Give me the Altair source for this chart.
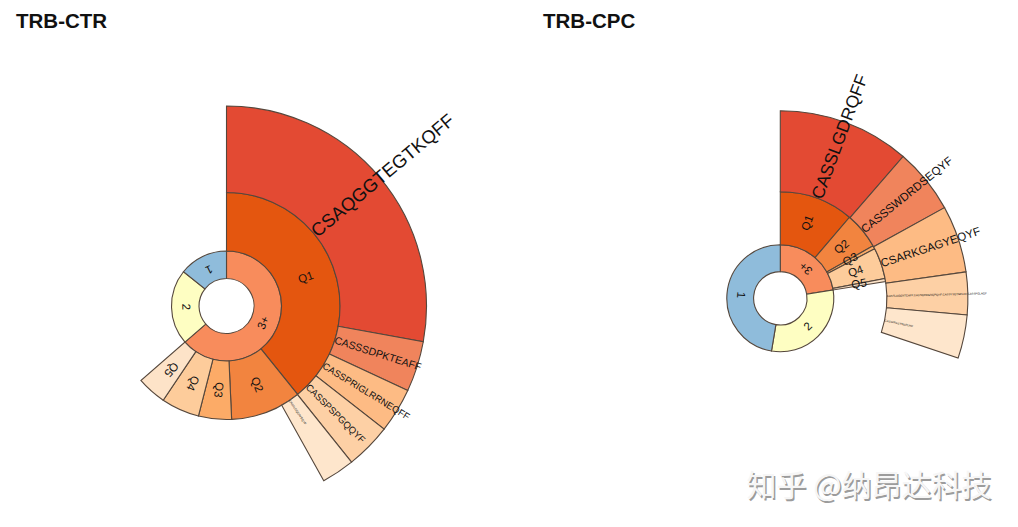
import math
import altair as alt
import pandas as pd

# ---------------- values (angular sizes, degrees) ----------------
# TRB-CTR (left sunburst)
ctr_clone_labels = ["3+", "2", "1"]
ctr_clone_deg = [229.0, 79.5, 51.5]
ctr_q_labels = ["Q1", "Q2", "Q3", "Q4", "Q5"]
ctr_q_deg = [141.2, 36.2, 16.9, 19.6, 15.1]
ctr_seq_labels = ["CSAQGGTEGTKQFF", "CASSSDPKTEAFF", "CASSPRIGLRRNEQFF",
                  "CASSPSPGQQYF", "CASSLGQGAYEQYF"]
ctr_seq_deg = [100.3, 14.7, 13.0, 13.3, 9.6]

# TRB-CPC (right sunburst)
cpc_clone_labels = ["3+", "2", "1"]
cpc_clone_deg = [81.0, 108.5, 170.5]
cpc_q_labels = ["Q1", "Q2", "Q3", "Q4", "Q5"]
cpc_q_deg = [40.5, 20.0, 1.8, 17.0, 1.7]
cpc_seq_labels = ["CASSLGDRQFF", "CASSSWDRDSEQYF", "CSARKGAGYEQYF",
                  "CASSLAGGNTEAFF;CASSQDRGNQPQHF;CASSYSGTGELFF;CASSPGLAGF",
                  "CASSIRSSYNSPLHF"]
cpc_seq_deg = [40.9, 20.2, 20.8, 13.2, 13.5]

titles = ["TRB-CTR", "TRB-CPC"]
watermark = ["知乎 @纳昂达科技"]

# ---------------- styles ----------------
clone_colors = ["#f88c5c", "#fefec2", "#8fbcdb"]
q_colors = ["#e4560f", "#f2843f", "#fcab67", "#fdcc9b", "#fde3c8"]
seq_colors = ["#e34a33", "#f0845c", "#fdbb84", "#fdd0a5", "#fee6cc"]
ctr_seq_font = [18.5, 10.5, 9.5, 9.5, 3]
cpc_seq_font = [17.5, 11.5, 11.5, 2.8, 3]
STROKE = "#55473c"
LABEL_FONT = "Liberation Sans"


def ring_rows(ring, labels, degs, colors, fonts=None):
    rows = []
    start = 0.0
    for i, (lab, d) in enumerate(zip(labels, degs)):
        end = start + d
        mid = (start + end) / 2
        if ring == 1:
            rot = (mid - 180) % 360
            r_lab = 0.5
        elif ring == 2:
            rot = (mid - 90) % 360
            r_lab = 1.5
        else:
            rot = (mid - 90) % 360
            r_lab = 2.0
        rows.append(dict(ring=ring, label=lab, start=start, end=end, mid=mid,
                         r_in=ring - 1, r_out=ring, r_lab=r_lab, rot=rot,
                         fill=colors[i], fs=(fonts[i] if fonts else 11.5)))
        start = end
    return rows


def build(clone_l, clone_d, q_l, q_d, seq_l, seq_d, seq_f):
    rows = (ring_rows(1, clone_l, clone_d, clone_colors)
            + ring_rows(2, q_l, q_d, q_colors)
            + ring_rows(3, seq_l, seq_d, seq_colors, seq_f))
    return pd.DataFrame(rows)


def panel(df, cx, cy, radii, title, w, h, extra=None):
    theta_scale = alt.Scale(domain=[0, 360], range=[0, 2 * math.pi])
    radius_scale = alt.Scale(type="linear", domain=[0, 1, 2, 3], range=radii,
                             zero=False, nice=False)
    base = alt.Chart(df)
    arcs = base.mark_arc(stroke=STROKE, strokeWidth=1.1).encode(
        x=alt.value(cx), y=alt.value(cy),
        theta=alt.Theta("start:Q", scale=theta_scale, stack=False),
        theta2="end:Q",
        radius=alt.Radius("r_in:Q", scale=radius_scale),
        radius2="r_out:Q",
        color=alt.Color("fill:N", scale=None),
    )
    inner = base.transform_filter("datum.ring < 3").mark_text(
        font=LABEL_FONT, align="center", baseline="middle", color="#111111"
    ).encode(
        x=alt.value(cx), y=alt.value(cy),
        theta=alt.Theta("mid:Q", scale=theta_scale, stack=False),
        radius=alt.Radius("r_lab:Q", scale=radius_scale),
        angle=alt.Angle("rot:Q", scale=None),
        size=alt.Size("fs:Q", scale=None),
        text="label:N",
    )
    seq = base.transform_filter("datum.ring == 3").mark_text(
        font=LABEL_FONT, align="left", baseline="middle", dx=0, color="#111111"
    ).encode(
        x=alt.value(cx), y=alt.value(cy),
        theta=alt.Theta("mid:Q", scale=theta_scale, stack=False),
        radius=alt.Radius("r_lab:Q", scale=radius_scale),
        angle=alt.Angle("rot:Q", scale=None),
        size=alt.Size("fs:Q", scale=None),
        text="label:N",
    )
    ttl = alt.Chart(pd.DataFrame({"t": [title]})).mark_text(
        font="Liberation Sans", fontWeight="bold", fontSize=20.5, align="left",
        baseline="alphabetic", color="#111111"
    ).encode(x=alt.value(8), y=alt.value(19.7), text="t:N")
    layers = [arcs, inner, seq, ttl]
    if extra is not None:
        layers += extra
    return alt.layer(*layers).properties(width=w, height=h)


ctr_df = build(ctr_clone_labels, ctr_clone_deg, ctr_q_labels, ctr_q_deg,
               ctr_seq_labels, ctr_seq_deg, ctr_seq_font)
cpc_df = build(cpc_clone_labels, cpc_clone_deg, cpc_q_labels, cpc_q_deg,
               cpc_seq_labels, cpc_seq_deg, cpc_seq_font)

wm_df = pd.DataFrame({"t": watermark})
wm_shadow = alt.Chart(wm_df).mark_text(
    font="Noto Sans CJK SC", fontSize=30, align="center", baseline="middle",
    color="#9c9c9c", dx=1.5, dy=1.5
).encode(x=alt.value(334), y=alt.value(479), text="t:N")
wm_top = alt.Chart(wm_df).mark_text(
    font="Noto Sans CJK SC", fontSize=30, align="center", baseline="middle",
    color="#f6f6f6"
).encode(x=alt.value(334), y=alt.value(479), text="t:N")

left = panel(ctr_df, 218.5, 298, [27.5, 55, 113.5, 200], titles[0], 527, 500)
right = panel(cpc_df, 245.3, 290.3, [26.7, 53.5, 106.6, 187.6], titles[1], 470, 500,
              extra=[wm_shadow, wm_top])

chart = alt.hconcat(left, right, spacing=0).properties(padding=0).configure_view(stroke=None)
chart.save("out.html", embed_options={"renderer": "svg", "actions": False})
